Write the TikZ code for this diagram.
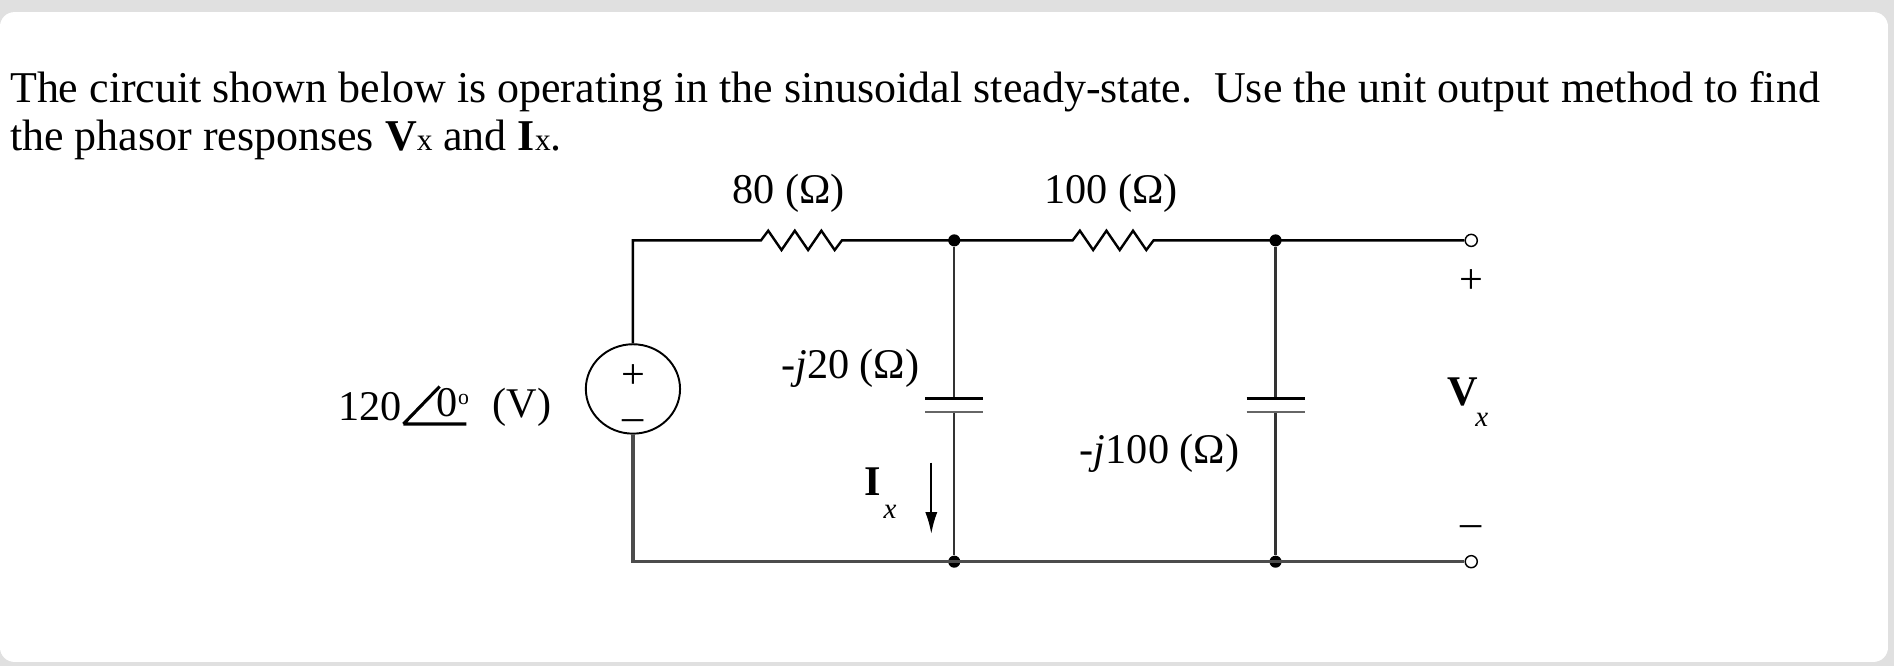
\documentclass[tikz,border=0pt]{standalone}
\usepackage{fontspec}
\setmainfont{Liberation Serif}
\usetikzlibrary{shapes.geometric,arrows.meta}
\begin{document}
\begin{tikzpicture}[x=0.5pt,y=-0.5pt,
  wire/.style={line width=1pt},
  dot/.style={circle,fill,inner sep=0pt,minimum size=5pt},
  term/.style={circle,draw,fill=white,inner sep=0pt,minimum size=5pt,line width=0.6pt},
  lbl/.style={font=\fontsize{17.5}{20}\selectfont,inner sep=0pt},
  plate/.style={line width=1pt}]
\useasboundingbox (0,0) rectangle (1568,551);
\fill[black!12] (0,0) rectangle (1568,551);
\fill[white,rounded corners=6pt] (0,10) rectangle (1563,548);
\node[anchor=base west,inner sep=0pt,font=\fontsize{18.2}{22}\selectfont] (t1) at (8,85)
  {The circuit shown below is operating in the sinusoidal steady-state.\ \ Use the unit output method to find};
\node[anchor=base west,inner sep=0pt,font=\fontsize{18.2}{22}\selectfont] (t2) at (8,125)
  {the phasor responses \textbf{V}{\fontsize{13}{15}\selectfont x} and \textbf{I}{\fontsize{13}{15}\selectfont x}.};
% coordinates
\coordinate (tl) at (524,199); \coordinate (bl) at (524,465);
\node[dot] (n1t) at (790,199) {}; \node[dot] (n1b) at (790,465) {};
\node[dot] (n2t) at (1056,199) {}; \node[dot] (n2b) at (1056,465) {};
\node[term] (ot) at (1218,199) {}; \node[term] (ob) at (1218,465) {};
\node[draw,ellipse,minimum width=39pt,minimum height=37pt,inner sep=0pt,line width=0.8pt] (src) at (524,322) {};
\node[lbl] (sp) at (524,312) {+};
\node[lbl] (sm) at (524,352) {\textendash};
% top wire with resistors
\draw[wire] (src.north) -- (tl) -- (630,199) -- (636,191) -- (647,207) -- (658,191) -- (669,207) -- (680,191) -- (691,207) -- (697,199) -- (n1t.center)
  -- (888,199) -- (894,191) -- (905,207) -- (916,191) -- (927,207) -- (938,191) -- (949,207) -- (955,199) -- (n2t.center) -- (ot);
\draw[wire,black!70,line width=1.5pt] (src.south) -- (bl) -- (n1b.center) -- (n2b.center) -- (ob);
% capacitors
\draw[wire,black!80] (n1t) -- (790,330) (790,341) -- (n1b);
\draw[plate] (766,330) -- (814,330); \draw[plate,black!60] (766,341) -- (814,341);
\draw[wire,black!80] (n2t) -- (1056,330) (1056,341) -- (n2b);
\draw[plate] (1032,330) -- (1080,330); \draw[plate,black!60] (1032,341) -- (1080,341);
% labels
\node[lbl] (r1) at (653,160) {80 (Ω)};
\node[lbl] (r2) at (920,160) {100 (Ω)};
\node[lbl] (c1) at (704,305) {-\textit{j}20 (Ω)};
\node[lbl] (c2) at (960,375) {-\textit{j}100 (Ω)};
\node[lbl,anchor=east] (v1) at (333,337) {120};
\draw[line width=1.3pt] (334,351) -- (386,351) (334,351) -- (364,320);
\node[lbl] (v2) at (375,333) {0\raisebox{0.6ex}{\fontsize{9}{10}\selectfont o}};
\node[lbl] (v3) at (432,337) {(V)};
\node[lbl] (pp) at (1218,233) {+};
\node[lbl] (vx) at (1215,333) {\textbf{V}\hspace{-1pt}\raisebox{-1.1ex}{\fontsize{12}{13}\selectfont\textit{x}}};
\node[lbl] (mm) at (1218,440) {\textendash};
\node[lbl] (ix) at (729,408) {\textbf{I}\hspace{1pt}\raisebox{-1.2ex}{\fontsize{12}{13}\selectfont\textit{x}}};
\coordinate (a1) at (771,383); \coordinate (a2) at (771,442);
\draw[-{Latex[length=9pt,width=5pt]},line width=0.8pt] (a1) -- (a2);
\end{tikzpicture}
\end{document}
